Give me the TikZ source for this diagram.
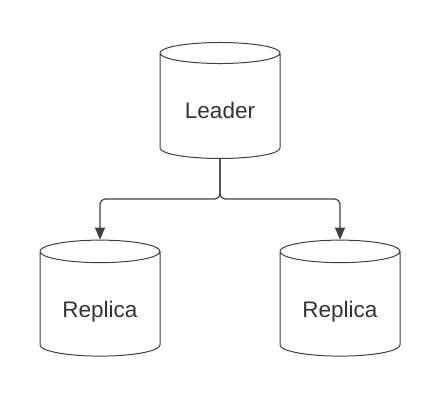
\documentclass[tikz,border=0pt]{standalone}
\usepackage{fontspec}
\setmainfont{Liberation Sans}
\usetikzlibrary{shapes.geometric,arrows.meta}

\begin{document}
\begin{tikzpicture}[
    x=1pt, y=1pt,
    db/.style={cylinder, shape border rotate=90, draw=black!75, line width=1pt,
      minimum width=120pt, minimum height=116pt, aspect=0.3,
      text=black!80, font=\fontsize{22.5}{26}\selectfont, inner sep=0pt,
      text height=26pt, text depth=0pt},
    link/.style={draw=black!75, line width=1.2pt, rounded corners=5pt,
      -{Triangle[length=12pt,width=10pt]}},
    ]
    \useasboundingbox (0,0) rectangle (440,400);
    \node[db] (leader) at (220,294) {Leader};
    \node[db] (replicaA) at (100,96) {Replica};
    \node[db] (replicaB) at (340,96) {Replica};
    \draw[link] (leader.bottom) |- ++(-60,-40) -| (replicaA.north);
    \draw[link] (leader.bottom) |- ++(60,-40) -| (replicaB.north);
  \end{tikzpicture}
\end{document}
